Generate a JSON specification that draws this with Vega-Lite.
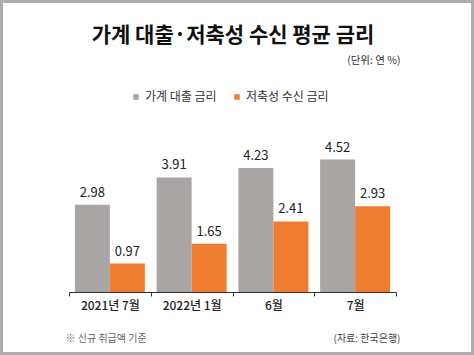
{
  "$schema": "https://vega.github.io/schema/vega-lite/v6.json",
  "width": 474,
  "height": 355,
  "autosize": {"type": "none"},
  "padding": 0,
  "background": "white",
  "config": {
    "font": "Noto Sans CJK KR",
    "view": {"stroke": "#adadad", "strokeWidth": 6}
  },
  "title": {
    "text": "가계 대출·저축성 수신 평균 금리",
    "anchor": "middle",
    "frame": "group",
    "orient": "top",
    "offset": 0,
    "baseline": "middle",
    "dy": 57,
    "dx": -4,
    "fontSize": 21,
    "fontWeight": "bold",
    "color": "#111111",
    "font": "Noto Sans CJK KR"
  },
  "data": {
    "values": [
      {"month": "2021년 7월", "series": "가계 대출 금리", "rate": 2.98},
      {"month": "2021년 7월", "series": "저축성 수신 금리", "rate": 0.97},
      {"month": "2022년 1월", "series": "가계 대출 금리", "rate": 3.91},
      {"month": "2022년 1월", "series": "저축성 수신 금리", "rate": 1.65},
      {"month": "6월", "series": "가계 대출 금리", "rate": 4.23},
      {"month": "6월", "series": "저축성 수신 금리", "rate": 2.41},
      {"month": "7월", "series": "가계 대출 금리", "rate": 4.52},
      {"month": "7월", "series": "저축성 수신 금리", "rate": 2.93}
    ]
  },
  "encoding": {
    "x": {
      "field": "month",
      "type": "nominal",
      "sort": ["2021년 7월", "2022년 1월", "6월", "7월"],
      "scale": {"range": [69, 396], "paddingInner": 0, "paddingOuter": 0},
      "axis": {
        "orient": "bottom",
        "offset": -63,
        "title": "※ 신규 취급액 기준",
        "titleAnchor": "start",
        "titleAlign": "left",
        "titleBaseline": "middle",
        "titleX": 65,
        "titleY": 46,
        "titleFontSize": 10,
        "titleFontWeight": "normal",
        "titleColor": "#666666",
        "labelAngle": 0,
        "labelFontSize": 12,
        "labelColor": "#222222",
        "labelFontWeight": 500,
        "labelPadding": 4,
        "domainColor": "#333333",
        "domainWidth": 1,
        "tickBand": "extent",
        "tickColor": "#333333",
        "tickSize": 4,
        "grid": false
      }
    },
    "xOffset": {
      "field": "series",
      "type": "nominal",
      "sort": ["가계 대출 금리", "저축성 수신 금리"],
      "scale": {"paddingInner": 0, "paddingOuter": 0.168}
    },
    "y": {
      "field": "rate",
      "type": "quantitative",
      "scale": {"domain": [0, 5], "range": [292, 145.5], "nice": false}
    }
  },
  "layer": [
    {
      "mark": {"type": "bar"},
      "encoding": {
        "y": {
          "field": "rate",
          "type": "quantitative",
          "axis": {
            "orient": "left",
            "title": "(단위: 연 %)",
            "titleAngle": 0,
            "titleAlign": "right",
            "titleBaseline": "middle",
            "titleX": 400,
            "titleY": 60,
            "titleFontSize": 10.5,
            "titleFontWeight": "normal",
            "titleColor": "#333333",
            "labels": false,
            "ticks": false,
            "domain": false,
            "grid": false
          }
        },
        "color": {
          "field": "series",
          "type": "nominal",
          "sort": ["가계 대출 금리", "저축성 수신 금리"],
          "scale": {"domain": ["가계 대출 금리", "저축성 수신 금리"], "range": ["#a9a5a4", "#ee7d31"]},
          "legend": {
            "orient": "none",
            "legendX": 130,
            "legendY": 91,
            "direction": "horizontal",
            "title": null,
            "symbolType": "square",
            "symbolSize": 30,
            "symbolStrokeWidth": 0,
            "labelFontSize": 12,
            "labelColor": "#333333",
            "labelOffset": 3,
            "columnPadding": 14
          }
        }
      }
    },
    {
      "mark": {"type": "text", "baseline": "alphabetic", "dy": -8, "fontSize": 13, "color": "#222222"},
      "encoding": {
        "text": {"field": "rate", "type": "quantitative", "format": ".2f"},
        "y": {
          "field": "rate",
          "type": "quantitative",
          "axis": {
            "orient": "right",
            "title": "(자료: 한국은행)",
            "titleAngle": 0,
            "titleAlign": "right",
            "titleBaseline": "middle",
            "titleX": -74,
            "titleY": 338.5,
            "titleFontSize": 10,
            "titleFontWeight": "normal",
            "titleColor": "#444444",
            "labels": false,
            "ticks": false,
            "domain": false,
            "grid": false
          }
        }
      }
    }
  ],
  "resolve": {"axis": {"y": "independent"}}
}
